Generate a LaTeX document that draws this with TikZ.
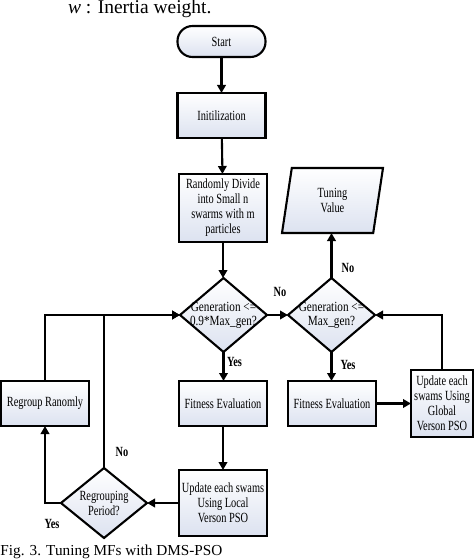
\documentclass[tikz,border=0pt]{standalone}
\usepackage{fontspec}
\setmainfont{Liberation Serif}
\newfontfamily\condfont[FakeStretch=0.74]{Liberation Serif}
\newfontfamily\decfont[FakeStretch=0.8]{Liberation Serif}
\usetikzlibrary{arrows.meta,shapes.geometric}
\definecolor{boxfill}{RGB}{220,226,240}
\newcommand\boxtxt{\condfont\fontsize{14}{15}\selectfont}
\newcommand\dectxt{\decfont\fontsize{14}{14}\selectfont}
\newcommand\lbltxt{\condfont\bfseries\fontsize{14}{15}\selectfont}
\begin{document}
\begin{tikzpicture}[x=1pt,y=-1pt,
  every node/.style={inner sep=0pt, outer sep=0pt},
  shaded/.style={draw, line width=2.1pt, top color=white, bottom color=boxfill},
  boxstyle/.style={shaded, rectangle, font=\boxtxt, align=center, minimum width=88pt},
  termstyle/.style={boxstyle, rounded corners=15pt},
  decstyle/.style={shaded, diamond, minimum width=87pt, minimum height=74pt},
  iostyle/.style={shaded, trapezium, trapezium left angle=68.2, trapezium right angle=111.8,
    trapezium stretches body, minimum width=101pt, minimum height=65pt, font=\boxtxt, align=center},
  conn/.style={line width=2.1pt, -{Triangle[length=8pt,width=8.5pt]}},
  lbl/.style={font=\lbltxt}]
\useasboundingbox (0,0) rectangle (474,559);

\node[anchor=base west, font=\fontsize{19.5}{23}\selectfont] (title) at (68,14) {\textit{w} : Inertia weight.};
\node[anchor=base west, font=\fontsize{15.25}{18}\selectfont] (caption) at (0.5,555.5) {Fig. 3. Tuning MFs with DMS-PSO};

\node[termstyle, minimum height=31pt] (start) at (221.5,41.5) {Start};
\node[boxstyle, minimum height=45pt] (init) at (221.5,115.5) {Initilization};
\node[boxstyle, minimum height=68pt] (rand) at (223,208) {Randomly Divide\\into Small n\\swarms with m\\particles};
\node[decstyle, label={[font=\dectxt, align=center]center:Generation <=\\0.9*Max\_gen?}] (d1) at (223.5,315) {};
\node[decstyle, label={[font=\dectxt, align=center]center:Generation <=\\Max\_gen?}] (d2) at (331.5,315) {};
\node[iostyle] (tv) at (332.5,200.5) {Tuning\\Value};
\node[boxstyle, minimum height=45pt] (fe1) at (223,403.5) {Fitness Evaluation};
\node[boxstyle, minimum height=45pt] (fe2) at (332,403.5) {Fitness Evaluation};
\node[boxstyle, minimum width=62pt, minimum height=67pt] (ug) at (442,403.5) {Update each\\swams Using\\Global\\Verson PSO};
\node[boxstyle, minimum height=66pt] (ul) at (223,503) {Update each swams\\Using Local\\Verson PSO};
\node[decstyle, minimum width=86pt, minimum height=70pt, label={[font=\boxtxt, align=center]center:Regrouping\\Period?}] (rp) at (104,503) {};
\node[boxstyle, minimum height=45pt] (rr) at (45,403.5) {Regroup Ranomly};

\draw[conn] (start) -- (init);
\draw[conn] (init) -- (rand);
\draw[conn] (rand.south) -- (rand.south |- d1.north);
\draw[conn] (d1.east) -- (d2.west);
\draw[conn] (d2.north) -- (d2.north |- tv.south);
\draw[conn] (d1.south) -- (d1.south |- fe1.north);
\draw[conn] (d2.south) -- (d2.south |- fe2.north);
\draw[conn] (fe1) -- (ul);
\draw[conn] (ul.west) -- (rp.east);
\draw[conn] (rp.west) -| (rr.south);
\draw[conn] (rr.north) |- (d1.west);
\draw[conn] (rp.north) |- (d1.west);
\draw[conn] (fe2) -- (ug);
\draw[conn] (ug.north) |- (d2.east);

\node[lbl] (no1) at (280,292) {No};
\node[lbl] (no2) at (348,268) {No};
\node[lbl] (yes1) at (234.5,362) {Yes};
\node[lbl] (yes2) at (348,365) {Yes};
\node[lbl] (yes3) at (52,524) {Yes};
\node[lbl] (no3) at (122,452) {No};
\end{tikzpicture}
\end{document}
